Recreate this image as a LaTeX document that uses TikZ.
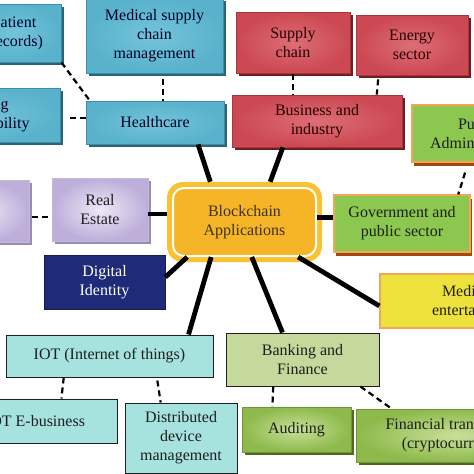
\documentclass[tikz,border=0pt]{standalone}
\usepackage{fontspec}
\setmainfont{Liberation Serif}
\usetikzlibrary{calc,shadows}
\definecolor{tealF}{HTML}{58B2CB}
\definecolor{tealM}{HTML}{74C4DA}
\definecolor{tealB}{HTML}{3B8EA5}
\definecolor{tealS}{HTML}{2B6475}
\definecolor{redF}{HTML}{CC4852}
\definecolor{redM}{HTML}{DD6E76}
\definecolor{redB}{HTML}{A83640}
\definecolor{redS}{HTML}{6E1E22}
\definecolor{grnF}{HTML}{8CC74F}
\definecolor{orgB}{HTML}{F2A65A}
\definecolor{brnS}{HTML}{A3480F}
\definecolor{yelF}{HTML}{EDE23B}
\definecolor{lavF}{HTML}{BDAEDA}
\definecolor{lavM}{HTML}{EDE8F6}
\definecolor{lavS}{HTML}{9A8BB6}
\definecolor{navyF}{HTML}{1F2A78}
\definecolor{cyanF}{HTML}{A6E3DF}
\definecolor{bankF}{HTML}{C6D99C}
\definecolor{oliF}{HTML}{8DBA4B}
\definecolor{oliM}{HTML}{C9E098}
\definecolor{oliS}{HTML}{4E6A1E}
\definecolor{goldO}{HTML}{F8C233}
\definecolor{goldI}{HTML}{F5B526}
\definecolor{txt}{HTML}{1E1E1E}
\newcommand\bxfont{\fontsize{16}{19}\selectfont}
\tikzset{
  box/.style={rectangle, align=center, inner sep=0pt, font=\bxfont, text=txt},
  tealbox/.style={box, draw=tealB, line width=0.8pt, inner color=tealM, outer color=tealF, text=black!85!blue,
    drop shadow={shadow xshift=3pt, shadow yshift=-3pt, opacity=1, fill=tealS}},
  redbox/.style={box, draw=redB, line width=0.8pt, inner color=redM, outer color=redF, text=black!85!red,
    drop shadow={shadow xshift=3pt, shadow yshift=-3pt, opacity=1, fill=redS}},
  grnbox/.style={box, draw=orgB, line width=1.2pt, fill=grnF,
    drop shadow={shadow xshift=2pt, shadow yshift=-4pt, opacity=1, fill=brnS}},
  yelbox/.style={box, draw=orgB, line width=1.2pt, fill=yelF},
  lavbox/.style={box, draw=lavS!60, line width=0.6pt, inner color=lavM, outer color=lavF,
    drop shadow={shadow xshift=3pt, shadow yshift=-3pt, opacity=1, fill=lavS}},
  navybox/.style={box, draw=navyF!70!black, line width=0.8pt, fill=navyF, text=white},
  cyanbox/.style={box, draw=txt, line width=1pt, fill=cyanF},
  bankbox/.style={box, draw=txt, line width=1pt, fill=bankF},
  olibox/.style={box, draw=oliF!80!black, line width=0.6pt, inner color=oliM, outer color=oliF,
    drop shadow={shadow xshift=3pt, shadow yshift=-3pt, opacity=1, fill=oliS}},
  solidlink/.style={line width=4.8pt, black},
  dashlink/.style={line width=2.2pt, black, dash pattern=on 6pt off 4pt}
}
\begin{document}
\begin{tikzpicture}[x=1pt,y=-1pt]
\useasboundingbox (0,0) rectangle (474,474);
\clip (0,0) rectangle (474,474);
% Healthcare group
\node[tealbox, minimum width=94pt, minimum height=58pt] (patient) at (14,33) {Patient\\(records)};
\node[tealbox, minimum width=160pt, minimum height=54pt] (drug) at (-20,115) {Tracking\\and traceability};
\node[tealbox, minimum width=137pt, minimum height=75pt] (medsupply) at (154.5,35.5) {Medical supply\\chain\\management};
\node[tealbox, minimum width=138pt, minimum height=43pt] (health) at (155,122.5) {Healthcare};
% Business group
\node[redbox, minimum width=114pt, minimum height=61pt] (supply) at (293,42.5) {Supply\\chain};
\node[redbox, minimum width=112pt, minimum height=60pt] (energy) at (412,45) {Energy\\sector};
\node[redbox, minimum width=170pt, minimum height=52pt] (business) at (317,121) {Business and\\industry};
% Government group
\node[grnbox, minimum width=133pt, minimum height=57pt] (admin) at (478.5,133.5) {Public\\Administration};
\node[grnbox, minimum width=136pt, minimum height=57pt] (gov) at (402,223.5) {Government and\\public sector};
% Real estate
\node[lavbox, minimum width=98pt, minimum height=62pt] (purple) at (-20,211) {};
\node[lavbox, minimum width=96pt, minimum height=63pt] (realestate) at (100,209.5) {Real\\Estate};
\node[navybox, minimum width=121pt, minimum height=54pt] (digital) at (104.5,282) {Digital\\Identity};
\node[yelbox, minimum width=192pt, minimum height=54pt] (media) at (476,301) {Media and\\entertainment};
% IOT group
\node[cyanbox, minimum width=207pt, minimum height=42pt] (iot) at (109.5,356) {IOT (Internet of things)};
\node[cyanbox, minimum width=164pt, minimum height=44pt] (iotebiz) at (35,421) {IOT E-business};
\node[cyanbox, minimum width=112pt, minimum height=70pt] (distrib) at (181,438) {Distributed\\device\\management};
% Banking group
\node[bankbox, minimum width=153pt, minimum height=53pt] (bank) at (302.5,359.5) {Banking and\\Finance};
\node[olibox, minimum width=109pt, minimum height=45pt] (audit) at (296.5,429.5) {Auditing};
\node[olibox, minimum width=199pt, minimum height=53pt] (fin) at (455.5,435.5) {Financial transactions\\(cryptocurrency)};
% Central node
\node[rectangle, rounded corners=16pt, fill=goldO, minimum width=155pt, minimum height=80pt] (block) at (244.5,222) {};
\node[box, rounded corners=11pt, fill=goldI, draw=white, line width=2pt, minimum width=143pt, minimum height=68pt, text=txt!80!brown] (blockin) at (244.5,222) {Blockchain\\Applications};
% Solid links
\draw[solidlink] ($(health.south west)!0.81!(health.south east)$) -- ($(block.north west)!0.28!(block.north east)$);
\draw[solidlink] ($(business.south west)!0.30!(business.south east)$) -- ($(block.north west)!0.665!(block.north east)$);
\coordinate (re1) at ($(realestate.north east)!0.57!(realestate.south east)$);
\draw[solidlink] (re1) -- (re1 -| block.west);
\coordinate (gv1) at ($(gov.north west)!0.39!(gov.south west)$);
\draw[solidlink] (gv1 -| blockin.east) -- (gv1);
\draw[solidlink] ($(digital.north east)!0.41!(digital.south east)$) -- ($(blockin.south west)!0.105!(blockin.south east)$);
\draw[solidlink] ($(blockin.south west)!0.27!(blockin.south east)$) -- ($(iot.north west)!0.88!(iot.north east)$);
\draw[solidlink] ($(blockin.south west)!0.55!(blockin.south east)$) -- ($(bank.north west)!0.37!(bank.north east)$);
\draw[solidlink] ($(blockin.south west)!0.87!(blockin.south east)$) -- ($(media.north west)!0.59!(media.south west)$);
% Dashed links
\draw[dashlink] (patient.south east) -- ($(health.north west)!0.03!(health.north east)$);
\coordinate (h1) at ($(health.north west)!0.4!(health.south west)$);
\draw[dashlink] ($(h1 -| drug.east)+(10,0)$) -- (h1);
\coordinate (m1) at ($(medsupply.south west)!0.56!(medsupply.south east)$);
\draw[dashlink] ($(m1)+(0,6)$) -- (m1 |- health.north);
\draw[dashlink] ($(supply.south)+(0,1)$) -- (supply.south |- business.north);
\draw[dashlink] ($(energy.south west)!0.2!(energy.south east)+(0,4)$) -- ($(business.north west)!0.85!(business.north east)$);
\coordinate (p1) at ($(realestate.north west)!0.62!(realestate.south west)$);
\draw[dashlink] ($(p1 -| purple.east)+(3,0)$) -- (p1);
\draw[dashlink] ($(admin.south west)!0.4!(admin.south east)+(0,10)$) -- ($(gov.north west)!0.91!(gov.north east)$);
\draw[dashlink] ($(iot.south west)!0.28!(iot.south east)$) -- ($(iotebiz.north west)!0.66!(iotebiz.north east)$);
\draw[dashlink] ($(iot.south west)!0.73!(iot.south east)+(0,3)$) -- ($(distrib.north west)!0.32!(distrib.north east)$);
\draw[dashlink] ($(bank.south west)!0.31!(bank.south east)$) -- ($(audit.north west)!0.28!(audit.north east)$);
\draw[dashlink] ($(bank.south west)!0.876!(bank.south east)$) -- ($(fin.north west)!0.18!(fin.north east)$);
\end{tikzpicture}
\end{document}
